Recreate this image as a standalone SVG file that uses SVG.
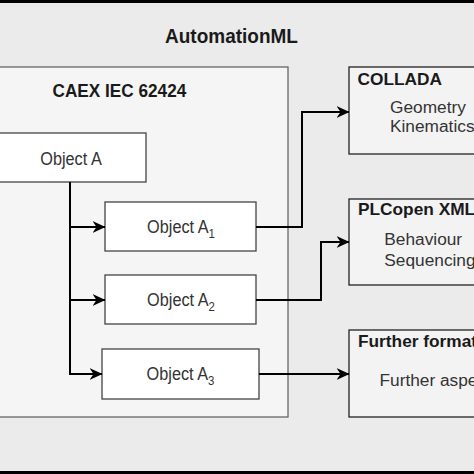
<svg xmlns="http://www.w3.org/2000/svg" width="474" height="474" viewBox="0 0 474 474">
<defs>
<style>
.t{font-family:"Liberation Sans",Arial,sans-serif;fill:#1a1a1a}
.b{font-weight:bold}
.n{fill:#333}
.o{font-size:18.5px}
.r{font-size:17.3px}
.obj{fill:#ffffff;stroke:#444;stroke-width:1.3}
.fmt{fill:#f3f3f3;stroke:#222;stroke-width:1.3}
.c{fill:none;stroke:#000;stroke-width:2}
</style>
<marker id="ah" viewBox="0 0 13 12" refX="12.5" refY="6" markerWidth="13" markerHeight="12" markerUnits="userSpaceOnUse" orient="auto">
<path d="M0,0 L13,6 L0,12 L4,6 Z" fill="#000"/>
</marker>
</defs>
<rect x="0" y="0" width="474" height="474" fill="#ebebeb"/>
<rect x="0" y="0" width="474" height="3" fill="#000"/>
<rect x="0" y="471" width="474" height="3" fill="#000"/>
<g id="automationml">
<text class="t b" transform="translate(231.5,42.5) scale(0.95,1)" font-size="20" text-anchor="middle">AutomationML</text>
</g>
<g id="caex">
<rect x="-2" y="67" width="290" height="350" fill="#f5f5f5" stroke="#666" stroke-width="1.3"/>
<text class="t b" transform="translate(52.5,96.7) scale(0.92,1)" font-size="18.7">CAEX IEC 62424</text>
</g>
<g id="objA">
<rect class="obj" x="-2" y="133" width="148" height="49"/>
<text class="t n o" transform="translate(71,164.5) scale(0.88,1)" text-anchor="middle">Object A</text>
</g>
<g id="objA1">
<rect class="obj" x="105" y="202" width="151" height="49"/>
<text class="t n o" transform="translate(181,232.5) scale(0.88,1)" text-anchor="middle">Object A<tspan font-size="13" dy="5">1</tspan></text>
</g>
<g id="objA2">
<rect class="obj" x="105" y="275" width="151" height="49"/>
<text class="t n o" transform="translate(181,306) scale(0.88,1)" text-anchor="middle">Object A<tspan font-size="13" dy="5">2</tspan></text>
</g>
<g id="objA3">
<rect class="obj" x="102" y="349" width="157" height="50"/>
<text class="t n o" transform="translate(180.5,379.5) scale(0.88,1)" text-anchor="middle">Object A<tspan font-size="13" dy="5">3</tspan></text>
</g>
<g id="collada">
<rect class="fmt" x="349" y="67" width="140" height="87"/>
<text class="t b r" x="357.5" y="85">COLLADA</text>
<text class="t n r" x="390" y="113.3">Geometry</text>
<text class="t n r" x="390" y="131.7">Kinematics</text>
</g>
<g id="plcopen">
<rect class="fmt" x="349" y="199" width="140" height="86"/>
<text class="t b r" x="358" y="215">PLCopen XML</text>
<text class="t n r" x="384.3" y="245">Behaviour</text>
<text class="t n r" x="384.3" y="265.5">Sequencing</text>
</g>
<g id="further">
<rect class="fmt" x="349" y="330" width="140" height="87"/>
<text class="t b r" x="358" y="346.7">Further formats</text>
<text class="t n r" x="379.5" y="386">Further aspects</text>
</g>
<g id="connectors">
<path class="c" d="M70 182 V374 H102" marker-end="url(#ah)"/>
<path class="c" d="M70 227 H105" marker-end="url(#ah)"/>
<path class="c" d="M70 300 H105" marker-end="url(#ah)"/>
<path class="c" d="M256 227 H302 V112 H349" marker-end="url(#ah)"/>
<path class="c" d="M256 300 H321 V242 H349" marker-end="url(#ah)"/>
<path class="c" d="M259 374 H349" marker-end="url(#ah)"/>
</g>
</svg>
